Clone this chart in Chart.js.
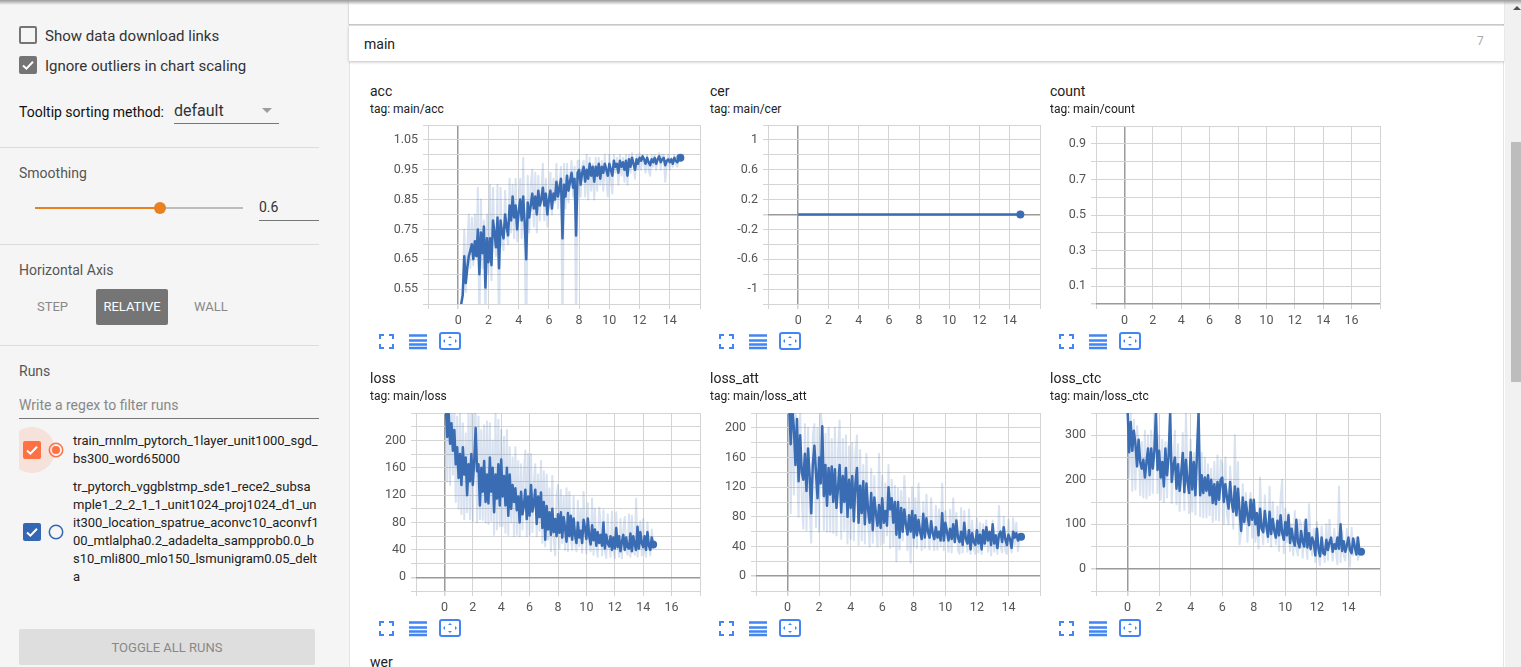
<!DOCTYPE html>
<html>
<head>
<meta charset="utf-8">
<title>TensorBoard scalars</title>
<script src="https://cdn.jsdelivr.net/npm/chart.js@4/dist/chart.umd.js"></script>
<style>
  html, body { margin: 0; width: 1521px; height: 667px; overflow: hidden; background: #fff; font-family: Roboto, sans-serif; color: #212121; }
  .abs { position: absolute; white-space: nowrap; }
  .sep { position: absolute; left: 0; width: 319px; height: 1px; background: #dcdcdc; }
  .box { position: absolute; width: 18px; height: 18px; border-radius: 2px; box-sizing: border-box; }
  .heading { font-size: 14px; color: #555; line-height: 18px; }
  .run { font-size: 13px; line-height: 18px; color: #212121; }
  canvas { position: absolute; }
</style>
</head>
<body>
<div id="sidebar" style="position:absolute;left:0;top:0;width:349px;height:667px;background:#f5f5f5"></div>
<div style="position:absolute;left:349px;top:0;width:1155px;height:667px;border-left:1px solid #e4e4e4;border-right:1px solid #e4e4e4;box-sizing:border-box"></div>
<div style="position:absolute;left:349px;top:0;width:1155px;height:24px;background:#fff;box-shadow:0 1px 2px rgba(0,0,0,.3)"></div>
<div style="position:absolute;left:349px;top:26px;width:1155px;height:35px;background:#fff;box-shadow:0 1px 3px rgba(0,0,0,.25)"></div>
<div class="abs" style="left:364px;top:35px;font-size:14px;line-height:18px;color:#212121">main</div>
<div class="abs" style="left:1477px;top:33px;font-size:12px;line-height:16px;color:#aaa">7</div>

<!-- scrollbar -->
<div style="position:absolute;left:1505px;top:0;width:16px;height:667px;background:#f1f1f1"></div>
<div style="position:absolute;left:1511px;top:142px;width:10px;height:240px;background:#bdbdbd"></div>
<div style="position:absolute;left:1513px;top:6px;width:0;height:0;border-left:4px solid transparent;border-right:4px solid transparent;border-bottom:4px solid #505050"></div>
<div style="position:absolute;left:0;top:0;width:1521px;height:5px;background:linear-gradient(#9a9a9a,rgba(200,200,200,0))"></div>

<!-- sidebar controls -->
<div class="box" style="left:19px;top:26px;border:2px solid #757575"></div>
<div class="abs" style="left:45px;top:27px;font-size:15px;line-height:18px;color:#333">Show data download links</div>
<div class="box" style="left:19px;top:56px;background:#757575"><svg width="18" height="18"><path d="M4 9.5l3.4 3.2L14 5.8" fill="none" stroke="#fff" stroke-width="2"/></svg></div>
<div class="abs" style="left:45px;top:57px;font-size:15px;line-height:18px;color:#333">Ignore outliers in chart scaling</div>
<div class="abs" style="left:19px;top:103px;font-size:14px;line-height:18px;color:#111">Tooltip sorting method:</div>
<div class="abs" style="left:174px;top:101px;font-size:16px;line-height:20px;color:#333">default</div>
<div style="position:absolute;left:174px;top:123px;width:105px;height:1px;background:#777"></div>
<div style="position:absolute;left:262px;top:108px;width:0;height:0;border-left:5px solid transparent;border-right:5px solid transparent;border-top:5px solid #9e9e9e"></div>
<div class="sep" style="top:147px"></div>
<div class="abs heading" style="left:19px;top:164px">Smoothing</div>
<div style="position:absolute;left:35px;top:207px;width:208px;height:2px;background:#bdbdbd"></div>
<div style="position:absolute;left:35px;top:207px;width:125px;height:2px;background:#e8811f"></div>
<div style="position:absolute;left:154px;top:202px;width:12px;height:12px;border-radius:50%;background:#e8811f"></div>
<div class="abs" style="left:259px;top:198px;font-size:14px;line-height:18px;color:#333">0.6</div>
<div style="position:absolute;left:259px;top:220px;width:60px;height:1px;background:#777"></div>
<div class="sep" style="top:244px"></div>
<div class="abs heading" style="left:19px;top:261px">Horizontal Axis</div>
<div class="abs" style="left:37px;top:299px;font-size:13px;line-height:16px;color:#888">STEP</div>
<div style="position:absolute;left:96px;top:289px;width:72px;height:36px;background:#757575;border-radius:2px;color:#fff;font-size:13px;line-height:36px;text-align:center">RELATIVE</div>
<div class="abs" style="left:194px;top:299px;font-size:13px;line-height:16px;color:#888">WALL</div>
<div class="sep" style="top:345px"></div>
<div class="abs heading" style="left:19px;top:362px">Runs</div>
<div class="abs" style="left:19px;top:396px;font-size:14px;line-height:18px;color:#888">Write a regex to filter runs</div>
<div style="position:absolute;left:19px;top:418px;width:300px;height:1px;background:#777"></div>

<div style="position:absolute;left:19px;top:427px;width:37px;height:46px;overflow:hidden"><div style="position:absolute;left:-10px;top:0;width:46px;height:46px;border-radius:50%;background:#f6e1db"></div></div>
<div class="box" style="left:23px;top:441px;background:#ff7043"><svg width="18" height="18"><path d="M4 9.5l3.4 3.2L14 5.8" fill="none" stroke="#fff" stroke-width="2"/></svg></div>
<svg style="position:absolute;left:48px;top:442px" width="16" height="16"><circle cx="8" cy="8" r="6.7" fill="none" stroke="#ff7043" stroke-width="1.5"/><circle cx="8" cy="8" r="4" fill="#ff7043"/></svg>
<div class="abs run" style="left:73px;top:432px">train_rnnlm_pytorch_1layer_unit1000_sgd_<br>bs300_word65000</div>
<div class="box" style="left:23px;top:523px;background:#3367b4"><svg width="18" height="18"><path d="M4 9.5l3.4 3.2L14 5.8" fill="none" stroke="#fff" stroke-width="2"/></svg></div>
<svg style="position:absolute;left:48px;top:524px" width="16" height="16"><circle cx="8" cy="8" r="6.7" fill="none" stroke="#3367b4" stroke-width="1.5"/></svg>
<div class="abs run" style="left:73px;top:478px">tr_pytorch_vggblstmp_sde1_rece2_subsa<br>mple1_2_2_1_1_unit1024_proj1024_d1_un<br>it300_location_spatrue_aconvc10_aconvf1<br>00_mtlalpha0.2_adadelta_sampprob0.0_b<br>s10_mli800_mlo150_lsmunigram0.05_delt<br>a</div>
<div style="position:absolute;left:19px;top:629px;width:296px;height:36px;background:#dedede;border-radius:2px;color:#888;font-size:13px;line-height:37px;text-align:center">TOGGLE ALL RUNS</div>

<div class="abs" style="left:370px;top:653px;font-size:14px;line-height:18px;color:#212121">wer</div>

<div id="charts"></div>

<script>
// relative time in hours, one row per hour
const relHours = [0, .1, .2, .3, .4, .5, .6, .7, .8, .9,
    1, 1.1, 1.2, 1.3, 1.4, 1.5, 1.6, 1.7, 1.8, 1.9,
    2, 2.1, 2.2, 2.3, 2.4, 2.5, 2.6, 2.7, 2.8, 2.9,
    3, 3.1, 3.2, 3.3, 3.4, 3.5, 3.6, 3.7, 3.8, 3.9,
    4, 4.1, 4.2, 4.3, 4.4, 4.5, 4.6, 4.7, 4.8, 4.9,
    5, 5.1, 5.2, 5.3, 5.4, 5.5, 5.6, 5.7, 5.8, 5.9,
    6, 6.1, 6.2, 6.3, 6.4, 6.5, 6.6, 6.7, 6.8, 6.9,
    7, 7.1, 7.2, 7.3, 7.4, 7.5, 7.6, 7.7, 7.8, 7.9,
    8, 8.1, 8.2, 8.3, 8.4, 8.5, 8.6, 8.7, 8.8, 8.9,
    9, 9.1, 9.2, 9.3, 9.4, 9.5, 9.6, 9.7, 9.8, 9.9,
    10, 10.1, 10.2, 10.3, 10.4, 10.5, 10.6, 10.7, 10.8, 10.9,
    11, 11.1, 11.2, 11.3, 11.4, 11.5, 11.6, 11.7, 11.8, 11.9,
    12, 12.1, 12.2, 12.3, 12.4, 12.5, 12.6, 12.7, 12.8, 12.9,
    13, 13.1, 13.2, 13.3, 13.4, 13.5, 13.6, 13.7, 13.8, 13.9,
    14, 14.1, 14.2, 14.3, 14.4, 14.5, 14.6, 14.7, 14.8];

const accSmoothed = [.40, .46, .50, .53, .66, .57, .62, .66, .68, .70,
    .65, .71, .66, .75, .60, .74, .67, .76, .555, .72,
    .64, .72, .63, .78, .74, .69, .79, .62, .78, .74,
    .72, .80, .76, .73, .83, .78, .86, .79, .83, .75,
    .81, .85, .78, .86, .77, .65, .84, .79, .83, .87,
    .82, .86, .80, .88, .83, .85, .89, .83, .87, .80,
    .85, .88, .82, .87, .85, .91, .86, .89, .92, .72,
    .90, .86, .93, .88, .91, .94, .89, .92, .73, .94,
    .95, .90, .94, .96, .91, .95, .92, .97, .93, .96,
    .91, .96, .93, .97, .92, .96, .94, .97, .95, .93,
    .97, .95, .93, .98, .96, .97, .94, .98, .96, .975,
    .95, .98, .93, .985, .96, .99, .97, .95, .985, .97,
    .99, .98, .995, .985, .97, .99, .975, .965, .985, .975,
    .99, .97, .985, .995, .975, .985, .99, .965, .98, .985,
    .975, .985, .97, .99, .98, .975, .985, .99];
const accRaw = [.35, .42, .50, .56, .75, .54, .68, .80, .62, .79,
    .63, .80, .66, .89, .40, .85, .62, .78, .42, .80,
    .60, .90, .58, .89, .72, .66, .90, .35, .89, .70,
    .68, .88, .74, .70, .92, .74, .90, .72, .92, .71,
    .80, .92, .72, .99, .70, .35, .93, .74, .90, .95,
    .76, .94, .74, .93, .78, .88, .97, .78, .92, .76,
    .86, .94, .80, .92, .84, .97, .82, .90, .96, .40,
    .97, .82, .97, .84, .92, .98, .86, .96, .40, .98,
    .98, .86, .96, .98, .86, 1.0, .85, .99, .88, .97,
    .85, .99, .88, .99, .90, .98, .88, 1.0, .92, .86,
    1.0, .92, .87, 1.0, .94, .99, .90, 1.0, .93, .99,
    .91, 1.0, .90, 1.0, .94, 1.005, .97, .92, 1.0, .95,
    1.005, .95, 1.0, .97, .94, 1.0, .95, .93, 1.0, .96,
    1.0, .95, .99, 1.005, .95, 1.0, 1.0, .91, .97, 1.0,
    .95, .99, .96, 1.0, .97, .96, .99, .985];

const cerHours = [0, 14.7];
const cerSmoothed = [0, 0];

const lossSmoothed = [290, 250, 205, 240, 195, 225, 185, 215, 165, 190,
    145, 180, 135, 190, 150, 175, 120, 165, 140, 180,
    135, 170, 218, 155, 165, 105, 160, 125, 170, 110,
    150, 108, 175, 125, 160, 95, 150, 115, 165, 105,
    172, 118, 148, 105, 160, 90, 150, 100, 135, 110,
    130, 98, 118, 80, 125, 92, 105, 128, 85, 118,
    90, 135, 96, 108, 128, 78, 118, 88, 124, 72,
    110, 55, 104, 70, 95, 62, 100, 66, 85, 60,
    92, 65, 95, 58, 88, 72, 52, 94, 60, 90,
    55, 86, 62, 50, 80, 58, 68, 50, 84, 72,
    56, 86, 60, 48, 76, 54, 70, 46, 66, 50,
    62, 46, 80, 42, 62, 50, 45, 60, 40, 58,
    42, 72, 44, 60, 38, 52, 62, 40, 58, 44,
    42, 64, 38, 60, 48, 40, 74, 42, 66, 50,
    44, 60, 40, 66, 46, 40, 58, 48];
const lossRaw = [330, 300, 140, 280, 135, 262, 150, 245, 110, 235,
    100, 240, 92, 225, 85, 210, 95, 240, 85, 250,
    82, 248, 240, 80, 235, 85, 215, 84, 222, 80,
    228, 78, 225, 82, 200, 62, 245, 70, 230, 75,
    215, 75, 205, 65, 215, 62, 190, 80, 175, 60,
    190, 62, 170, 60, 165, 70, 155, 185, 60, 180,
    62, 180, 66, 140, 165, 60, 150, 68, 170, 50,
    155, 45, 150, 55, 130, 38, 148, 55, 32, 120,
    135, 42, 128, 50, 118, 40, 130, 38, 125, 60,
    40, 118, 50, 38, 112, 45, 100, 36, 125, 70,
    35, 108, 50, 38, 115, 33, 100, 45, 30, 102,
    80, 32, 98, 38, 28, 92, 50, 30, 96, 40,
    28, 95, 50, 30, 85, 28, 70, 88, 40, 33,
    92, 30, 90, 50, 33, 115, 30, 60, 82, 32,
    85, 40, 30, 80, 50, 32, 70, 48];

const lossAttSmoothed = [260, 232, 178, 225, 200, 150, 212, 128, 190, 140,
    130, 165, 115, 172, 135, 85, 150, 176, 140, 105,
    160, 125, 202, 108, 150, 95, 146, 110, 148, 100,
    144, 92, 120, 150, 86, 135, 100, 146, 80, 130,
    92, 135, 74, 125, 146, 72, 122, 85, 128, 70,
    125, 90, 72, 112, 62, 106, 85, 68, 96, 65,
    105, 72, 88, 68, 120, 90, 105, 72, 100, 56,
    100, 52, 92, 60, 90, 70, 56, 82, 60, 88,
    52, 82, 55, 76, 60, 50, 84, 52, 78, 60,
    52, 74, 58, 50, 66, 52, 60, 48, 85, 48,
    72, 60, 48, 64, 50, 70, 46, 75, 52, 46,
    60, 42, 72, 50, 44, 62, 36, 58, 46, 42,
    62, 44, 56, 36, 62, 44, 66, 48, 60, 42,
    70, 44, 55, 38, 56, 60, 46, 66, 50, 42,
    56, 50, 38, 60, 52, 58, 48, 52, 53];
const lossAttRaw = [300, 270, 85, 240, 110, 228, 150, 80, 225, 105,
    64, 205, 62, 200, 90, 45, 190, 205, 66, 200,
    60, 222, 200, 62, 192, 60, 200, 60, 185, 58,
    200, 55, 170, 210, 50, 185, 62, 190, 44, 175,
    50, 180, 48, 165, 190, 42, 170, 48, 150, 44,
    165, 75, 40, 145, 45, 135, 65, 40, 165, 42,
    135, 45, 125, 55, 150, 38, 130, 40, 122, 20,
    118, 36, 115, 48, 135, 90, 35, 105, 18, 120,
    40, 105, 38, 125, 70, 35, 100, 38, 110, 60,
    36, 105, 50, 35, 95, 36, 90, 40, 125, 35,
    88, 60, 33, 90, 32, 105, 45, 85, 35, 30,
    92, 32, 88, 50, 33, 90, 30, 75, 38, 30,
    78, 32, 72, 30, 70, 40, 75, 33, 60, 28,
    75, 33, 52, 30, 95, 40, 32, 80, 34, 30,
    76, 45, 32, 78, 42, 72, 34, 50, 53];

const lossCtcSmoothed = [360, 262, 330, 265, 310, 280, 230, 290, 240, 225,
    245, 205, 240, 270, 210, 270, 225, 265, 350, 222,
    265, 205, 240, 185, 270, 210, 250, 350, 195, 230,
    250, 180, 235, 175, 215, 260, 172, 245, 195, 170,
    262, 178, 240, 165, 260, 350, 165, 210, 170, 205,
    175, 210, 165, 200, 148, 190, 145, 195, 155, 200,
    205, 150, 190, 160, 135, 195, 150, 128, 185, 120,
    180, 130, 85, 160, 105, 150, 120, 98, 155, 110,
    155, 100, 125, 75, 135, 90, 82, 130, 95, 72,
    128, 78, 112, 85, 70, 108, 75, 120, 80, 65,
    105, 75, 120, 58, 90, 65, 52, 110, 60, 48,
    85, 60, 50, 110, 48, 80, 44, 70, 60, 30,
    90, 45, 28, 70, 35, 32, 65, 42, 60, 70,
    38, 55, 45, 70, 45, 100, 40, 62, 38, 52,
    70, 42, 35, 68, 50, 32, 70, 38, 38];
const lossCtcRaw = [380, 205, 350, 175, 335, 178, 320, 280, 165, 285,
    160, 310, 158, 300, 165, 310, 170, 355, 355, 170,
    300, 155, 290, 150, 285, 160, 270, 355, 148, 230,
    310, 145, 280, 130, 200, 305, 132, 350, 210, 125,
    290, 128, 260, 122, 250, 355, 118, 260, 115, 250,
    115, 235, 120, 225, 105, 240, 110, 255, 108, 245,
    235, 100, 250, 120, 100, 230, 160, 90, 300, 120,
    240, 55, 85, 190, 100, 170, 60, 145, 170, 70,
    155, 60, 120, 45, 205, 100, 55, 165, 90, 60,
    185, 50, 150, 90, 55, 140, 40, 160, 200, 35,
    135, 60, 125, 40, 100, 30, 130, 45, 30, 110,
    100, 25, 105, 60, 22, 145, 70, 30, 90, 15,
    105, 30, 8, 95, 45, 15, 100, 20, 110, 50,
    18, 90, 40, 10, 185, 15, 85, 30, 18, 90,
    50, 5, 92, 30, 60, 70, 20, 38, 38];

const accTicks = [1.05, .95, .85, .75, .65, .55];
const cerTicks = [1, .6, .2, -.2, -.6, -1];
const countTicks = [.9, .7, .5, .3, .1];
const lossTicks = [200, 160, 120, 80, 40, 0];
const lossCtcTicks = [300, 200, 100, 0];

const runColor = '#3a6cb4';
const rawColor = 'rgba(58, 108, 180, 0.2)';
const gridColor = '#d4d4d4';
const zeroColor = '#9a9a9a';

function toPoints(values, hours) {
    return values.map((y, i) => ({ x: hours[i], y: y }));
}

function addTitle(name, left, top) {
    const title = document.createElement('div');
    title.className = 'abs';
    title.style.cssText = `left:${left}px;top:${top}px;font-size:14px;line-height:18px;color:#212121`;
    title.textContent = name;
    document.getElementById('charts').appendChild(title);

    const tag = document.createElement('div');
    tag.className = 'abs';
    tag.style.cssText = `left:${left}px;top:${top + 19}px;font-size:12px;line-height:16px;color:#212121`;
    tag.textContent = 'tag: main/' + name;
    document.getElementById('charts').appendChild(tag);
}

function addIcons(left, top) {
    const blue = '#4285f4';
    const holder = document.createElement('div');
    holder.style.cssText = `position:absolute;left:${left}px;top:${top}px;width:84px;height:20px`;
    holder.innerHTML = `<svg width="84" height="20">
      <path d="M1 6V2h4M10 2h4v4M14 11v4h-4M5 15H1v-4" transform="translate(0,1)" fill="none" stroke="${blue}" stroke-width="2"/>
      <path d="M30 3.5h18M30 8.5h18M30 12.5h18M30 16h18" stroke="${blue}" stroke-width="2.4" fill="none"/>
      <rect x="61" y="1" width="20" height="16" rx="2" fill="none" stroke="${blue}" stroke-width="2"/>
      <path d="M71 4l-2 2h4zM71 14l-2-2h4zM64 9l2-2v4zM78 9l-2-2v4z" fill="${blue}"/>
    </svg>`;
    document.getElementById('charts').appendChild(holder);
}

function createScalarChart(cfg) {
    const axisWidth = 58, axisHeight = 36, padTop = 8, padRight = 8;
    const hours = cfg.hours || relHours;
    const canvas = document.createElement('canvas');
    canvas.width = cfg.plot.width + axisWidth + padRight;
    canvas.height = cfg.plot.height + axisHeight + padTop;
    canvas.style.left = (cfg.plot.left - axisWidth) + 'px';
    canvas.style.top = (cfg.plot.top - padTop) + 'px';
    document.getElementById('charts').appendChild(canvas);

    const datasets = [];
    if (cfg.smoothed) {
        datasets.push({
            data: toPoints(cfg.smoothed, hours),
            borderColor: runColor,
            backgroundColor: runColor,
            borderWidth: 2.5,
            borderJoinStyle: 'round',
            tension: 0,
            pointRadius: (c) => c.dataIndex === cfg.smoothed.length - 1 ? 4 : 0,
            pointBorderWidth: 0
        });
    }
    if (cfg.raw) {
        datasets.push({
            data: toPoints(cfg.raw, hours),
            borderColor: rawColor,
            borderWidth: 2,
            borderJoinStyle: 'round',
            tension: 0,
            pointRadius: 0
        });
    }

    const isLabelled = (v) => cfg.ticks.includes(Number(v.toFixed(2)));
    const gridLine = (c) => c.tick.value === 0 ? zeroColor : gridColor;

    new Chart(canvas, {
        type: 'line',
        data: { datasets: datasets },
        options: {
            responsive: false,
            animation: false,
            events: [],
            layout: { padding: { top: padTop, right: padRight, left: 0, bottom: 0 } },
            scales: {
                x: {
                    type: 'linear',
                    min: -2,
                    max: cfg.xMax,
                    border: { display: false },
                    afterFit: (scale) => { scale.height = axisHeight; scale.paddingLeft = 0; scale.paddingRight = 0; },
                    grid: { color: gridLine, tickColor: gridColor, lineWidth: (c) => c.tick.value === 0 ? 1.5 : 1, tickLength: 5 },
                    ticks: {
                        stepSize: 2,
                        autoSkip: false,
                        maxRotation: 0,
                        padding: 4,
                        color: '#555',
                        font: { family: 'Roboto, sans-serif', size: 12.5 },
                        callback: (value) => (value < 0 || value >= cfg.xMax) ? '' : String(value)
                    }
                },
                y: {
                    min: cfg.yMin,
                    max: cfg.yMax,
                    border: { display: false },
                    afterFit: (scale) => { scale.width = axisWidth; scale.paddingTop = 0; scale.paddingBottom = 0; },
                    grid: { color: gridLine, tickColor: gridColor, lineWidth: (c) => c.tick.value === 0 ? 1.5 : 1, tickLength: 5 },
                    ticks: {
                        stepSize: cfg.yStep,
                        autoSkip: false,
                        padding: 5,
                        color: '#555',
                        font: { family: 'Roboto, sans-serif', size: 12.5 },
                        callback: (value) => isLabelled(value) ? String(Number(value.toFixed(2))) : ''
                    }
                }
            },
            plugins: { legend: { display: false }, tooltip: { enabled: false } }
        }
    });

    addTitle(cfg.name, cfg.titleLeft, cfg.titleTop);
    addIcons(cfg.titleLeft + 9, cfg.titleTop + 250);
}

createScalarChart({ name: 'acc', titleLeft: 370, titleTop: 82, plot: { left: 428, top: 125, width: 272, height: 179 },
    xMax: 16, yMin: .5, yMax: 1.1, yStep: .05, ticks: accTicks, smoothed: accSmoothed, raw: accRaw });
createScalarChart({ name: 'cer', titleLeft: 710, titleTop: 82, plot: { left: 768, top: 125, width: 272, height: 179 },
    xMax: 16, yMin: -1.2, yMax: 1.2, yStep: .2, ticks: cerTicks, smoothed: cerSmoothed, hours: cerHours });
createScalarChart({ name: 'count', titleLeft: 1050, titleTop: 82, plot: { left: 1096, top: 126, width: 284, height: 178 },
    xMax: 18, yMin: 0, yMax: 1, yStep: .1, ticks: countTicks });
createScalarChart({ name: 'loss', titleLeft: 370, titleTop: 369, plot: { left: 416, top: 413, width: 284, height: 178 },
    xMax: 18, yMin: -20, yMax: 240, yStep: 20, ticks: lossTicks, smoothed: lossSmoothed, raw: lossRaw });
createScalarChart({ name: 'loss_att', titleLeft: 710, titleTop: 369, plot: { left: 756, top: 413, width: 284, height: 178 },
    xMax: 16, yMin: -20, yMax: 220, yStep: 20, ticks: lossTicks, smoothed: lossAttSmoothed, raw: lossAttRaw });
createScalarChart({ name: 'loss_ctc', titleLeft: 1050, titleTop: 369, plot: { left: 1096, top: 413, width: 284, height: 178 },
    xMax: 16, yMin: -50, yMax: 350, yStep: 50, ticks: lossCtcTicks, smoothed: lossCtcSmoothed, raw: lossCtcRaw });
</script>
</body>
</html>
